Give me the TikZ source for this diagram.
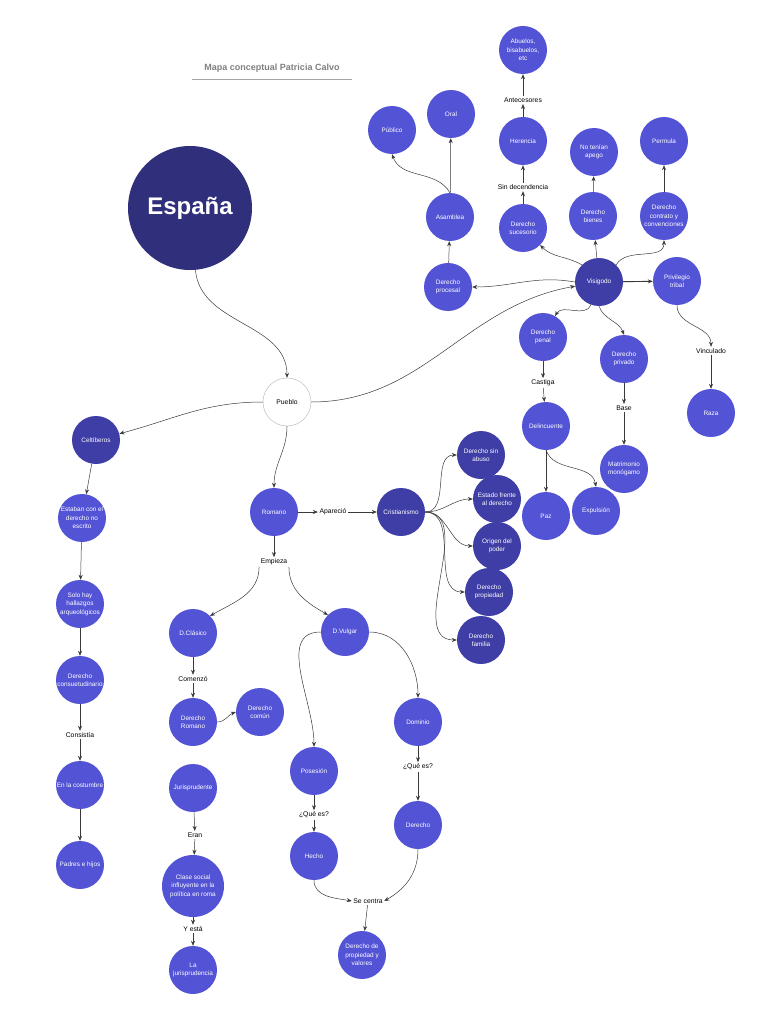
\documentclass[tikz,border=0pt]{standalone}
\usepackage{fontspec}
\setmainfont{Liberation Sans}
\usetikzlibrary{arrows.meta}
\definecolor{nb}{HTML}{5353D6}
\definecolor{nd}{HTML}{3E3EA6}
\definecolor{ne}{HTML}{2F2F7C}
\definecolor{ln}{HTML}{3A3A3A}
\tikzset{
 c/.style={circle,fill=nb,text=white,minimum size=48pt,inner sep=0pt,align=center,font=\fontsize{6.4}{8.5}\selectfont},
 cd/.style={c,fill=nd},
 lb/.style={font=\fontsize{6.8}{9}\selectfont,text=black,inner sep=1.5pt},
 ar/.style={draw=ln,line width=0.5pt,-{Stealth[length=5pt,width=4pt]}},
}
\begin{document}
\begin{tikzpicture}[x=1pt,y=-1pt]
\useasboundingbox[fill=white] (0,0) rectangle (768,1024);
\node[text=gray,font=\bfseries\fontsize{9}{11}\selectfont] (title) at (272,68) {Mapa conceptual Patricia Calvo};
\draw[gray!70,line width=0.6pt] (192,79) -- (352,79);
\node[circle,fill=ne,text=white,minimum size=124pt,font=\bfseries\fontsize{24}{28}\selectfont] (esp) at (190,208) {España};
\node[circle,draw=gray!60,fill=white,minimum size=48pt,font=\fontsize{6.8}{9}\selectfont] (pue) at (287,402) {Pueblo};
\node[cd] (cel) at (96,440) {Celtíberos};
\node[c] (est) at (82,518) {Estaban con el\\derecho no\\escrito};
\node[c] (sol) at (80,604) {Solo hay\\hallazgos\\arqueológicos};
\node[c] (dcon) at (80,680) {Derecho\\consuetudinario};
\node[lb] (cons) at (80,735) {Consistía};
\node[c] (cos) at (80,785) {En la costumbre};
\node[c] (pad) at (80,865) {Padres e hijos};
\node[c] (rom) at (274,512) {Romano};
\node[lb] (apa) at (333,512) {Apareció};
\node[cd] (cri) at (401,512) {Cristianismo};
\node[cd] (dsa) at (481,455) {Derecho sin\\abuso};
\node[cd] (efd) at (497,499) {Estado frente\\al derecho};
\node[cd] (odp) at (497,546) {Origen del\\poder};
\node[cd] (dpr) at (489,592) {Derecho\\propiedad};
\node[cd] (dfa) at (481,640) {Derecho\\familia};
\node[lb] (emp) at (274,562) {Empieza};
\node[c] (dcl) at (193,633) {D.Clásico};
\node[lb] (com) at (193,679) {Comenzó};
\node[c] (dro) at (193,722) {Derecho\\Romano};
\node[c] (dcm) at (260,712) {Derecho\\común};
\node[c] (jur) at (193,788) {Jurisprudente};
\node[lb] (era) at (195,835) {Eran};
\node[c,minimum size=62pt] (cla) at (193,886) {Clase social\\influyente en la\\política en roma};
\node[lb] (yes) at (193,929) {Y está};
\node[c] (laj) at (193,970) {La\\jurisprudencia};
\node[c] (dvu) at (345,632) {D.Vulgar};
\node[c] (dom) at (418,722) {Dominio};
\node[lb] (qe1) at (418,767) {¿Qué es?};
\node[c] (der) at (418,825) {Derecho};
\node[c] (pos) at (314,771) {Posesión};
\node[lb] (qe2) at (314,815) {¿Qué es?};
\node[c] (hec) at (314,856) {Hecho};
\node[lb] (sec) at (368,901) {Se centra};
\node[c] (dpv) at (362,955) {Derecho de\\propiedad y\\valores};
\node[cd] (vis) at (599,282) {Visigodo};
\node[c] (dpc) at (448,287) {Derecho\\procesal};
\node[c] (asa) at (450,217) {Asamblea};
\node[c] (pub) at (392,130) {Público};
\node[c] (ora) at (451,114) {Oral};
\node[c] (dsu) at (523,228) {Derecho\\sucesorio};
\node[lb] (sin) at (523,187) {Sin decendencia};
\node[c] (her) at (523,141) {Herencia};
\node[lb] (ant) at (523,100) {Antecesores};
\node[c] (abu) at (523,50) {Abuelos,\\bisabuelos,\\etc};
\node[c] (dbi) at (593,216) {Derecho\\bienes};
\node[c] (nta) at (594,152) {No tenían\\apego};
\node[c] (dcc) at (664,216) {Derecho\\contrato y\\convenciones};
\node[c] (per) at (664,141) {Permula};
\node[c] (pri) at (677,281) {Privilegio\\tribal};
\node[c] (dpe) at (543,337) {Derecho\\penal};
\node[lb] (cas) at (543,383) {Castiga};
\node[c] (del) at (546,426) {Delincuente};
\node[c] (paz) at (546,516) {Paz};
\node[c] (exp) at (596,511) {Expulsión};
\node[c] (dpi) at (624,359) {Derecho\\privado};
\node[lb] (bas) at (624,408) {Base};
\node[c] (mat) at (624,469) {Matrimonio\\monógamo};
\node[lb] (vin) at (711,351) {Vinculado};
\node[c] (raz) at (711,413) {Raza};
% edges
\draw[ar] (esp) to[out=-85,in=90] (pue);
\draw[ar] (pue) to[out=180,in=15] (cel);
\draw[ar] (pue) to[out=0,in=190] (vis);
\draw[ar] (pue) to[out=-90,in=90] (rom);
\draw[ar] (cel) -- (est);
\draw[ar] (est) -- (sol);
\draw[ar] (sol) -- (dcon);
\draw[ar] (dcon) -- (cons);
\draw[ar] (cons) -- (cos);
\draw[ar] (cos) -- (pad);
\draw[ar] (rom) -- (apa);
\draw[ar] (apa) -- (cri);
\draw[ar] (rom) -- (emp);
\foreach \t in {dsa,efd,odp,dpr,dfa} \draw[ar] (cri.east) to[out=0,in=180] (\t.west);
\draw[ar] (emp.south west) to[out=-90,in=30] (dcl.north east);
\draw[ar] (emp.south east) to[out=-90,in=150] (dvu.north west);
\draw[ar] (dcl) -- (com);
\draw[ar] (com) -- (dro);
\draw[ar] (dro.east) to[out=0,in=200] (dcm.west);
\draw[ar] (jur) -- (era);
\draw[ar] (era) -- (cla);
\draw[ar] (cla) -- (yes);
\draw[ar] (yes) -- (laj);
\draw[ar] (dvu.west) to[out=180,in=90] (pos.north);
\draw[ar] (dvu.east) to[out=0,in=90] (dom.north);
\draw[ar] (pos) -- (qe2);
\draw[ar] (qe2) -- (hec);
\draw[ar] (dom) -- (qe1);
\draw[ar] (qe1) -- (der);
\draw[ar] (hec.south) to[out=-90,in=170] (sec.west);
\draw[ar] (der.south) to[out=-90,in=30] (sec.east);
\draw[ar] (sec) -- (dpv);
\draw[ar] (vis.west) to[out=170,in=0] (dpc.east);
\draw[ar] (vis.north west) to[out=150,in=-45] (dsu.south east);
\draw[ar] (vis) -- (dbi);
\draw[ar] (vis.north east) to[out=60,in=-90] (dcc.south);
\draw[ar,line width=0.9pt] (vis) -- (pri);
\draw[ar] (vis) to[out=-110,in=60] (dpe);
\draw[ar] (vis.south) to[out=-70,in=110] (dpi.north);
\draw[ar] (pri.south) to[out=-90,in=90] (vin.north);
\draw[ar] (vin) -- (raz);
\draw[ar] (dpc) -- (asa);
\draw[ar] (asa.north) to[out=120,in=-70] (pub.south);
\draw[ar] (asa) -- (ora);
\draw[ar] (dsu) -- (sin);
\draw[ar] (sin) -- (her);
\draw[ar] (her) -- (ant);
\draw[ar] (ant) -- (abu);
\draw[ar] (dbi) -- (nta);
\draw[ar] (dcc) -- (per);
\draw[ar] (dpe) -- (cas);
\draw[ar] (cas) -- (del);
\draw[ar] (del) -- (paz);
\draw[ar] (del.south) to[out=-70,in=100] (exp.north);
\draw[ar] (dpi) -- (bas);
\draw[ar] (bas) -- (mat);
\end{tikzpicture}
\end{document}
